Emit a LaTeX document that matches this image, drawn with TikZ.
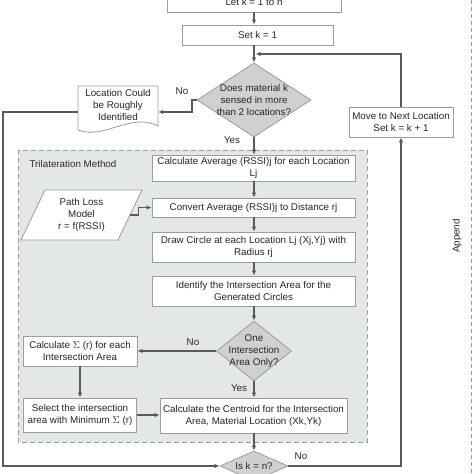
\documentclass[tikz,border=0pt]{standalone}
\usepackage{fontspec}
\setmainfont{Liberation Sans}
\usetikzlibrary{shapes.geometric, arrows.meta, calc}
\definecolor{lncol}{HTML}{5A5A5A}
\definecolor{bordcol}{HTML}{9C9C9C}
\definecolor{grpcol}{HTML}{E4E7E7}
\definecolor{diacol}{HTML}{D0D0D0}
\tikzset{every node/.style={align=center, text=black!85, font=\fontsize{9.8}{12}\selectfont}}
\tikzset{box/.style={draw=bordcol, fill=white, line width=0.8pt, inner sep=1pt}}
\tikzset{decis/.style={diamond, draw=bordcol, fill=diacol, line width=0.8pt, inner sep=0pt}}
\tikzset{arr/.style={draw=lncol, line width=1.1pt, -{Latex[length=5pt,width=4.5pt]}}}
\tikzset{conn/.style={draw=lncol, line width=1.1pt}}
\tikzset{grp/.style={draw=bordcol, fill=grpcol, line width=0.9pt, dash pattern=on 5pt off 3pt}}

\begin{document}
\begin{tikzpicture}[x=1pt, y=-1pt]
		\useasboundingbox (0,0) rectangle (474,474);

		% Trilateration group
		\draw[grp] (18,150) rectangle (367,442);
		\node[anchor=center] (tril) at (73,164) {Trilateration Method};

		% Main column
		\node[box, minimum width=174pt, minimum height=20pt] (letk) at (254,2) {Let k = 1 to n};
		\node[box, minimum width=151pt, minimum height=20pt] (setk) at (257.5,35) {Set k = 1};
		\node[decis, minimum width=114pt, minimum height=74pt] (dec1) at (254,100) {};
		\node (dec1t) at (dec1) {Does material k\\sensed in more\\than 2 locations?};
		\node[box, minimum width=203pt, minimum height=26pt] (avg) at (253.5,168) {Calculate Average (RSSI)j for each Location\\Lj};
		\node[box, minimum width=203pt, minimum height=19pt] (conv) at (253.5,207.5) {Convert Average (RSSI)j to Distance rj};
		\node[box, minimum width=203pt, minimum height=30pt] (circ) at (253.5,247) {Draw Circle at each Location Lj (Xj,Yj) with\\Radius rj};
		\node[box, minimum width=203pt, minimum height=30pt] (ident) at (253.5,291) {Identify the Intersection Area for the\\Generated Circles};
		\node[decis, minimum width=75pt, minimum height=60pt] (dec2) at (254,351) {};
		\node (dec2t) at (dec2) {One\\Intersection\\Area Only?};
		\node[box, minimum width=187pt, minimum height=35pt] (cent) at (253.5,415.5) {Calculate the Centroid for the Intersection\\Area, Material Location (Xk,Yk)};
		\node[decis, minimum width=68pt, minimum height=30pt] (isk) at (254,466) {};
		\node (iskt) at (isk) {Is k = n?};

		% Left column
		\node[box, minimum width=114pt, minimum height=30pt] (sig) at (80,351) {Calculate $\Sigma$ (r) for each\\Intersection Area};
		\node[box, minimum width=113pt, minimum height=34pt] (sel) at (80,415) {Select the intersection\\area with Minimum $\Sigma$ (r)};

		%% Path loss model
		\coordinate (plmc) at (81.5,215);
		\draw[box] ($(plmc)+(-36.5,-25)$) -- ++(97,0) -- ++(-24,50) -- ++(-97,0) -- cycle;
		\node[minimum width=97pt] (plm) at (plmc) {Path Loss\\Model\\r = f(RSSI)};

		%% Document
		\coordinate (locc) at (118,105);
		\draw[box] ($(locc)+(-40,-19)$) -- ($(locc)+(-40,25)$)
			.. controls ($(locc)+(-13,35)$) and ($(locc)+(12,7)$) .. ($(locc)+(40,21)$) -- ($(locc)+(40,-19)$) -- cycle;
		\node[minimum width=80pt] (locid) at (locc) {Location Could\\be Roughly\\Identified};

		% Right side
		\node[box, minimum width=104pt, minimum height=30pt] (move) at (401,122) {Move to Next Location\\Set k = k + 1};
		\node[rotate=90] (apnd) at (457,236) {Append};
		\draw[draw=bordcol, line width=0.8pt, dash pattern=on 4pt off 3pt] (471,0) -- (471,474);

		% Labels
		\node (no1) at (182,91) {No};
		\node (yes1) at (232,140) {Yes};
		\node (no2) at (193,342) {No};
		\node (yes2) at (239,388) {Yes};
		\node (no3) at (301,456) {No};

		% Connectors
		\coordinate (nojog) at (192,112);
		\coordinate (lftdn) at (3,466);
		\coordinate (loopin) at (255.5,54);
		\draw[arr] (dec1.north |- letk.south) -- (dec1.north |- setk.north);
		\draw[arr] (dec1.north |- setk.south) -- (dec1.north);
		\draw[arr] (dec1.west) -| (nojog) -- (nojog -| locid.east);
		\draw[arr] (nojog -| locid.west) -| (lftdn) -- (isk.west);
		\draw[arr] (dec1.south) -- (avg.north -| dec1.south);
		\draw[arr] (avg.south -| dec1.south) -- (conv.north -| dec1.south);
		\draw[arr] (plm.east) -- ++(8,0) |- (conv.west);
		\draw[arr] (conv.south -| dec1.south) -- (circ.north -| dec1.south);
		\draw[arr] (circ.south -| dec1.south) -- (ident.north -| dec1.south);
		\draw[arr] (ident.south -| dec2.north) -- (dec2.north);
		\draw[arr] (dec2.west) -- (sig.east |- dec2.west);
		\draw[arr] (sig.south) -- (sel.north);
		\draw[arr] (sel.east) -- (cent.west |- sel.east);
		\draw[arr] (dec2.south) -- (cent.north -| dec2.south);
		\draw[arr] (cent.south -| isk.north) -- (isk.north);
		\draw[arr] (isk.east) -- (isk.east -| move.south) -- (move.south);
		\draw[arr] (move.north) |- (loopin);
	\end{tikzpicture}
\end{document}
